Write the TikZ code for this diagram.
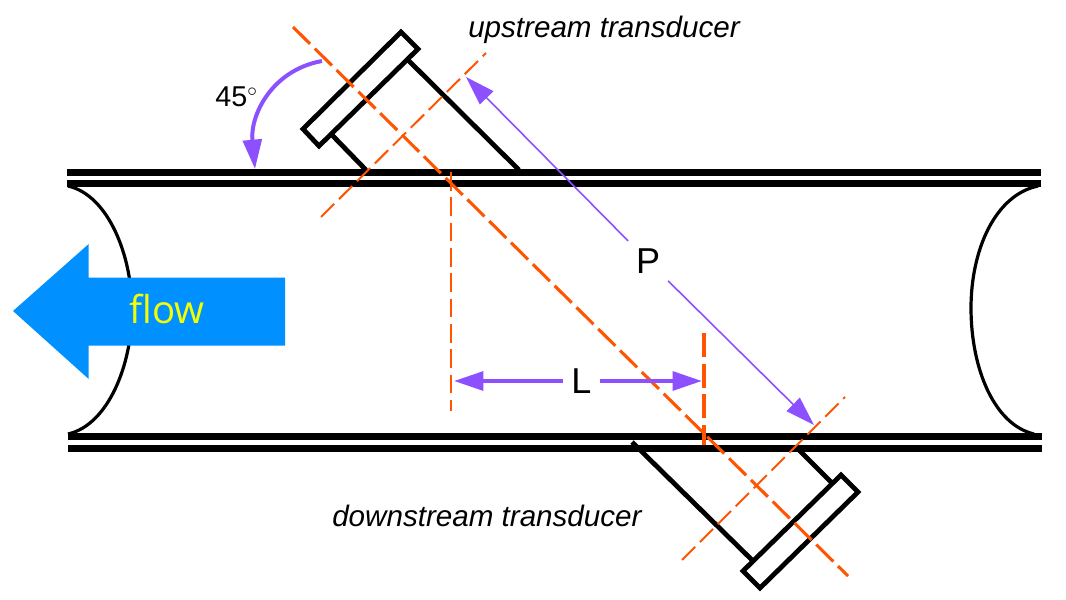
\documentclass[tikz,border=0pt]{standalone}
\usepackage{fontspec}
\setmainfont{Liberation Sans}
\newfontfamily\flowfont{Open Sans}
\usetikzlibrary{arrows.meta}
\definecolor{guide}{HTML}{FF5500}
\definecolor{measure}{HTML}{8C50FF}
\definecolor{flowblue}{HTML}{0090FF}
\definecolor{flowtext}{HTML}{F5FF00}
\tikzset{
  pipewall/.style={line width=5pt},
  pipeedge/.style={line width=2.4pt},
  transducer/.style={line width=3.6pt,black,line join=miter},
  guidethick/.style={guide,line width=2.3pt,dash pattern=on 18pt off 5pt},
  guidethin/.style={guide,line width=1.5pt,dash pattern=on 14pt off 5pt},
  dimhead/.style={-{Triangle[length=22pt,width=14pt]}},
  dimthick/.style={measure,line width=3pt,dimhead},
  dimthin/.style={measure,line width=1.2pt,dimhead},
  caption/.style={font=\fontsize{22.2}{26}\selectfont\itshape,inner sep=0pt},
  dimlabel/.style={font=\fontsize{27}{32}\selectfont,inner sep=0pt}
}
\begin{document}
\begin{tikzpicture}[x=0.75pt,y=-0.75pt]
\useasboundingbox (0,0) rectangle (1066,599);
% pipe
\draw[pipewall] (67,172.3) -- (1041,172.3);
\draw[pipewall] (67,183.3) -- (1041,183.3);
\draw[pipewall] (68,436.7) -- (1042,436.7);
\draw[pipewall] (68,448.5) -- (1042,448.5);
\draw[pipeedge] (68,186) .. controls (108,195) and (132,255) .. (132,310) .. controls (132,365) and (108,425) .. (68,434);
\draw[pipeedge] (1038,186) .. controls (995,195) and (971,250) .. (971,308) .. controls (971,370) and (995,425) .. (1034,434);
% transducers
\draw[transducer,fill=white] (401,32) -- (418,49) -- (319,146) -- (303,129) -- cycle;
\draw[transducer] (407,59) -- (519,170);
\draw[transducer] (332,135) -- (366,170);
\draw[transducer,fill=white] (841,475) -- (858,492) -- (760,588) -- (743,571) -- cycle;
\draw[transducer] (632,442) -- (754,562);
\draw[transducer] (795,446) -- (833,484);
% guide lines
\coordinate (mainA) at (293,27);
\coordinate (mainB) at (848,576);
\coordinate (upA) at (321,217);
\coordinate (upB) at (486,53);
\coordinate (downA) at (682,560);
\coordinate (downB) at (845,397);
\coordinate (vlA) at (451,172);
\coordinate (vlB) at (451,411);
\coordinate (vrA) at (704,333);
\coordinate (vrB) at (704,445);
\draw[guidethick] (mainA) -- (mainB);
\draw[guidethin] (upA) -- (upB);
\draw[guidethin] (downA) -- (downB);
\draw[guidethin] (vlA) -- (vlB);
\draw[guidethick] (vrA) -- (vrB);
% flow arrow
\fill[flowblue] (13,311) -- (88.7,244) -- (88.7,277.5) -- (285,277.5) -- (285,345.5) -- (88.7,345.5) -- (88.7,379) -- cycle;
\node[text=flowtext,font=\flowfont\fontsize{28.8}{34}\selectfont,inner sep=0pt] (flow) at (167,309) {flow};
% dimensions
\node[dimlabel,minimum size=42pt,circle] (P) at (648,261) {\raisebox{-1.5pt}{P}};
\node[dimlabel,minimum width=27.5pt] (L) at (581.5,381) {\raisebox{-1.5pt}{L}\hspace{1pt}};
\coordinate (Ptop) at (466,77);
\coordinate (Pbot) at (814,425);
\coordinate (Lleft) at (454,381);
\coordinate (Lright) at (702,381);
\draw[dimthin] (P) -- (Ptop);
\draw[dimthin] (P) -- (Pbot);
\draw[dimthick] (L) -- (Lleft);
\draw[dimthick] (L) -- (Lright);
\coordinate (angA) at (322,61);
\coordinate (angB) at (255,169);
\draw[dimthick] (angA) .. controls (272,70) and (250,115) .. (angB);
\node[font=\fontsize{21.5}{25}\selectfont,inner sep=0pt] (angle) at (236.5,97) {45$^{\circ}$};
% captions
\node[caption,anchor=west] (up) at (468,29.5) {upstream transducer};
\node[caption,anchor=west] (down) at (332,516) {downstream transducer};
\end{tikzpicture}
\end{document}
